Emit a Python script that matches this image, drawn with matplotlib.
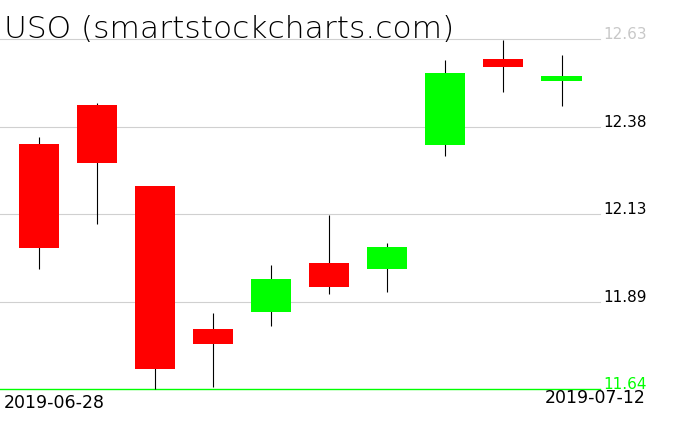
import numpy as np
import matplotlib
matplotlib.use("Agg")
import matplotlib.pyplot as plt

# daily candles
dates = ['2019-06-28', '2019-07-01', '2019-07-02', '2019-07-03', '2019-07-05',
         '2019-07-08', '2019-07-09', '2019-07-10', '2019-07-11', '2019-07-12']
opens  = [12.333, 12.443, 12.214, 11.810, 11.858, 11.996, 11.979, 12.331, 12.573, 12.512]
highs  = [12.354, 12.448, 12.215, 11.855, 11.991, 12.132, 12.053, 12.571, 12.628, 12.585]
lows   = [11.979, 12.108, 11.640, 11.646, 11.819, 11.910, 11.915, 12.300, 12.481, 12.441]
closes = [12.040, 12.280, 11.697, 11.767, 11.951, 11.929, 12.042, 12.534, 12.552, 12.525]

yticks = [11.64, 11.8875, 12.135, 12.3825, 12.63]
ytick_labels = ['11.64', '11.89', '12.13', '12.38', '12.63']
ytick_colors = ['#00ff00', 'black', 'black', 'black', '#c8c8c8']

W, H = 676, 431
fig = plt.figure(figsize=(W / 100, H / 100), dpi=100)
ax = fig.add_axes([0, (H - 390.3) / H, 600 / W, 350.3 / H])
ax.set_xlim(-0.672, 9.663)
ax.set_ylim(yticks[0], yticks[-1])
ax.axis('off')

# grid lines (bottom one is green)
for v, col in zip(yticks, ytick_colors):
    c = '#00ff00' if col == '#00ff00' else '#d0d0d0'
    ax.axhline(v, color=c, lw=1.0 if c == '#00ff00' else 0.8, zorder=0, clip_on=False)

x = np.arange(len(dates))
o = np.array(opens)
c = np.array(closes)
up = c >= o
colors = np.where(up, '#00ff00', '#ff0000')

ax.vlines(x, lows, highs, color='black', lw=0.8, zorder=1, clip_on=False)
ax.bar(x, np.abs(c - o), bottom=np.minimum(o, c), width=0.69,
       color=colors, edgecolor='none', zorder=2, clip_on=False)

# price labels at right, baseline on the grid line
for v, lab, col in zip(yticks, ytick_labels, ytick_colors):
    yf = (H - 390.3) / H + (v - yticks[0]) / (yticks[-1] - yticks[0]) * 350.3 / H
    fig.text(647 / W, yf + 1 / H, lab, color=col, fontsize=11,
             ha='right', va='baseline')

# date labels
fig.text(4 / W, 1 - 394 / H, dates[0], fontsize=12.5, ha='left', va='top')
fig.text(646 / W, 1 - 389 / H, dates[-1], fontsize=12.5, ha='right', va='top')

fig.text(4 / W, 1 - 38 / H, 'USO (smartstockcharts.com)', fontsize=22.5,
         fontweight='light', color='black', ha='left', va='baseline')

fig.savefig('out.png', dpi=100)
